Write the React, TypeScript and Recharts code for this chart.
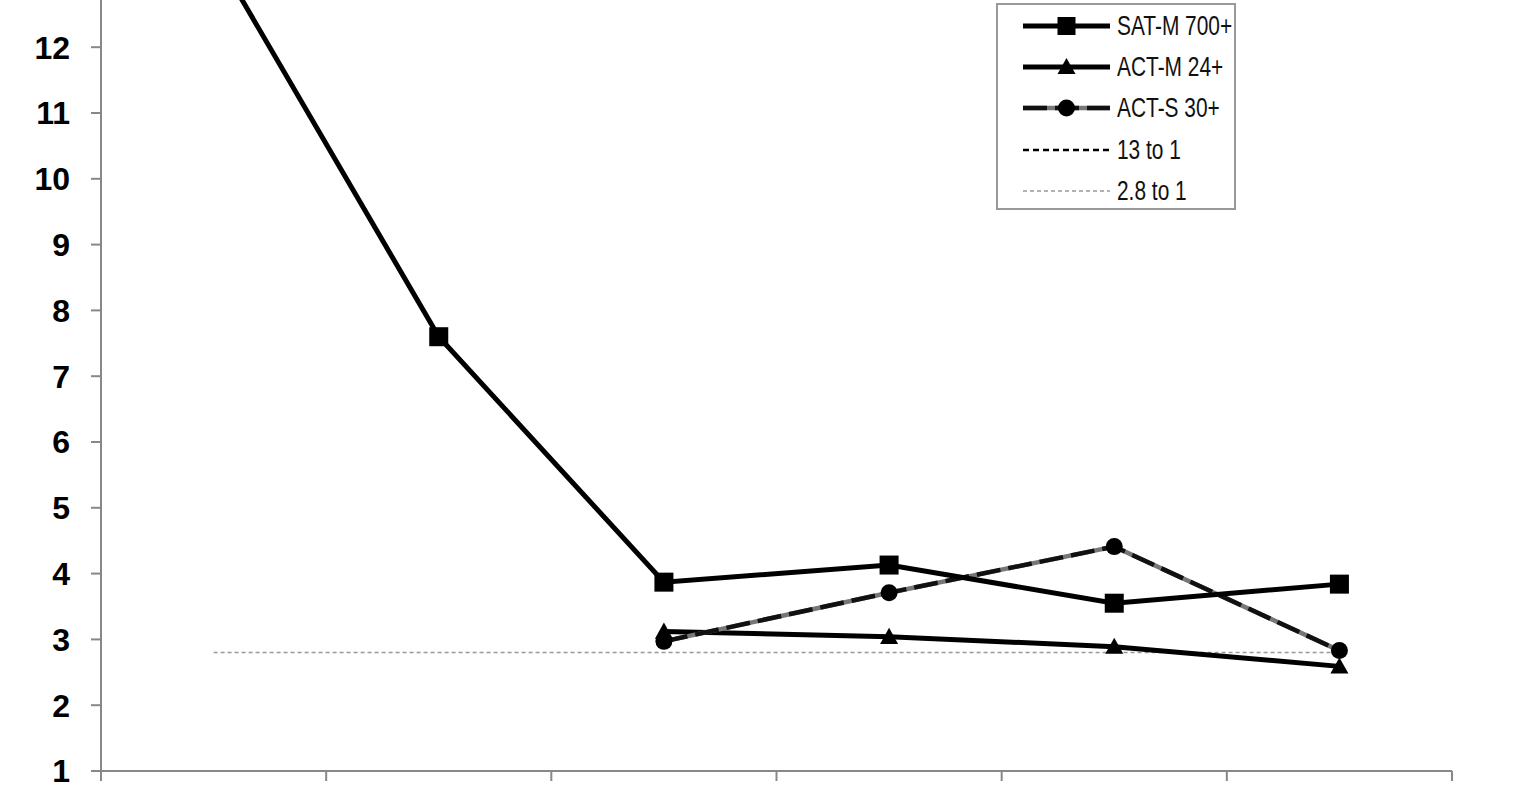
import React from 'react';
import { LineChart, Line, XAxis, YAxis } from 'recharts';

const categories = ['1981-1985', '1986-1990', '1991-1995', '1996-2000', '2001-2005', '2006-2010'];
const satM700 = [13.46, 7.6, 3.87, 4.13, 3.55, 3.84];
const actM24 = [null, null, 3.12, 3.04, 2.89, 2.59];
const actS30 = [null, null, 2.97, 3.71, 4.41, 2.83];
const ratio13 = [13, 13, 13, 13, 13, 13];
const ratio28 = [2.8, 2.8, 2.8, 2.8, 2.8, 2.8];
const yTicks = [1, 2, 3, 4, 5, 6, 7, 8, 9, 10, 11, 12, 13, 14];

const data = categories.map((period, i) => ({
  pos: i + 0.5,
  period,
  sat: satM700[i],
  actm: actM24[i],
  acts: actS30[i],
  r13: ratio13[i],
  r28: ratio28[i],
}));

const xTicks: number[] = [];
for (let i = 0; i <= categories.length; i++) {
  xTicks.push(i);
  if (i < categories.length) xTicks.push(i + 0.5);
}

const FONT = '"Liberation Sans", Arial, sans-serif';

const SquareDot = (p: any) => {
  if (p.cy == null || p.value == null) return <g key={p.index} />;
  return <rect key={p.index} x={p.cx - 9.5} y={p.cy - 9.5} width={19} height={19} fill="#000" />;
};
const TriDot = (p: any) => {
  if (p.cy == null || p.value == null) return <g key={p.index} />;
  const s = 9;
  return (
    <polygon
      key={p.index}
      points={`${p.cx},${p.cy - s} ${p.cx + s},${p.cy + s * 0.8} ${p.cx - s},${p.cy + s * 0.8}`}
      fill="#000"
    />
  );
};
const CircleDot = (p: any) => {
  if (p.cy == null || p.value == null) return <g key={p.index} />;
  return <circle key={p.index} cx={p.cx} cy={p.cy} r={8.5} fill="#000" />;
};

const XTick = (props: any) => {
  const { x, y, payload } = props;
  const v = payload.value;
  if (Number.isInteger(v)) {
    return <line x1={x} y1={y} x2={x} y2={y + 10} stroke="#888" strokeWidth={2} />;
  }
  const label = categories[Math.floor(v)];
  return (
    <text x={x} y={y + 60} textAnchor="middle" fontFamily={FONT} fontSize={24} fontWeight="bold" fill="#000">
      {label}
    </text>
  );
};

const legendRows = [
  { name: 'SAT-M 700+', kind: 'sat' },
  { name: 'ACT-M 24+', kind: 'actm' },
  { name: 'ACT-S 30+', kind: 'acts' },
  { name: '13 to 1', kind: 'r13' },
  { name: '2.8 to 1', kind: 'r28' },
];

const LegendSample = ({ kind }: { kind: string }) => {
  const w = 87;
  const h = 20;
  const c = h / 2;
  const m = w / 2;
  let content: any = null;
  if (kind === 'sat') {
    content = (
      <>
        <line x1={0} y1={c} x2={w} y2={c} stroke="#000" strokeWidth={5} />
        <rect x={m - 9} y={c - 9} width={18} height={18} fill="#000" />
      </>
    );
  } else if (kind === 'actm') {
    content = (
      <>
        <line x1={0} y1={c} x2={w} y2={c} stroke="#000" strokeWidth={5} />
        <polygon points={`${m},${c - 9} ${m + 9},${c + 7} ${m - 9},${c + 7}`} fill="#000" />
      </>
    );
  } else if (kind === 'acts') {
    content = (
      <>
        <line x1={0} y1={c} x2={w} y2={c} stroke="#777" strokeWidth={4.5} />
        <line x1={0} y1={c} x2={w} y2={c} stroke="#111" strokeWidth={4.5} strokeDasharray="24 8" />
        <circle cx={m} cy={c} r={8.5} fill="#000" />
      </>
    );
  } else if (kind === 'r13') {
    content = <line x1={0} y1={c} x2={w} y2={c} stroke="#000" strokeWidth={2.5} strokeDasharray="6 4" />;
  } else {
    content = <line x1={0} y1={c} x2={w} y2={c} stroke="#999" strokeWidth={1.5} strokeDasharray="4 3" />;
  }
  return (
    <svg width={w} height={h} style={{ display: 'block', flexShrink: 0 }}>
      {content}
    </svg>
  );
};

const ChartLegend = () => (
  <div
    style={{
      position: 'absolute',
      left: 996,
      top: 3,
      width: 240,
      height: 207,
      boxSizing: 'border-box',
      border: '2px solid #999',
      background: '#fff',
      fontFamily: FONT,
      overflow: 'hidden',
    }}
  >
    {legendRows.map((r) => (
      <div key={r.name} style={{ display: 'flex', alignItems: 'center', height: 41.3, paddingLeft: 25 }}>
        <LegendSample kind={r.kind} />
        <span
          style={{
            display: 'inline-block',
            flexShrink: 0,
            marginLeft: 7,
            fontSize: 27.5,
            lineHeight: '30px',
            color: '#111',
            transform: 'scaleX(0.76)',
            transformOrigin: 'left center',
            whiteSpace: 'nowrap',
          }}
        >
          {r.name}
        </span>
      </div>
    ))}
  </div>
);

export default function App() {
  return (
    <div style={{ position: 'absolute', left: 0, top: 0, width: 1528, height: 800, overflow: 'hidden', background: '#fff' }}>
      <div style={{ position: 'absolute', left: 0, top: -120, width: 1528, height: 951 }}>
        <LineChart width={1528} height={951} data={data} margin={{ top: 35.6, right: 76, left: 0, bottom: 0 }}>
          <XAxis
            dataKey="pos"
            type="number"
            domain={[0, categories.length]}
            ticks={xTicks}
            interval={0}
            height={60}
            axisLine={{ stroke: '#888', strokeWidth: 2 }}
            tickLine={false}
            tickSize={0}
            tickMargin={0}
            tick={<XTick />}
          />
          <YAxis
            type="number"
            domain={[1, 14]}
            ticks={yTicks}
            interval={0}
            width={101}
            axisLine={{ stroke: '#888', strokeWidth: 2 }}
            tickLine={{ stroke: '#888', strokeWidth: 2 }}
            tickSize={10}
            tickMargin={21}
            tick={{ fontFamily: FONT, fontSize: 32, fontWeight: 'bold', fill: '#000' }}
            allowDataOverflow
          />
          <Line
            dataKey="r28"
            stroke="#999"
            strokeWidth={1.5}
            strokeDasharray="4 3"
            dot={false}
            activeDot={false}
            isAnimationActive={false}
          />
          <Line
            dataKey="r13"
            stroke="#000"
            strokeWidth={2.5}
            strokeDasharray="6 4"
            dot={false}
            activeDot={false}
            isAnimationActive={false}
          />
          <Line
            dataKey="actm"
            stroke="#000"
            strokeWidth={5}
            dot={TriDot}
            activeDot={false}
            isAnimationActive={false}
          />
          <Line
            dataKey="acts"
            stroke="#777"
            strokeWidth={4.5}
            dot={false}
            activeDot={false}
            isAnimationActive={false}
          />
          <Line
            dataKey="acts"
            stroke="#111"
            strokeWidth={4.5}
            strokeDasharray="24 8"
            dot={CircleDot}
            activeDot={false}
            isAnimationActive={false}
          />
          <Line
            dataKey="sat"
            stroke="#000"
            strokeWidth={5}
            dot={SquareDot}
            activeDot={false}
            isAnimationActive={false}
          />
        </LineChart>
      </div>
      <ChartLegend />
    </div>
  );
}
